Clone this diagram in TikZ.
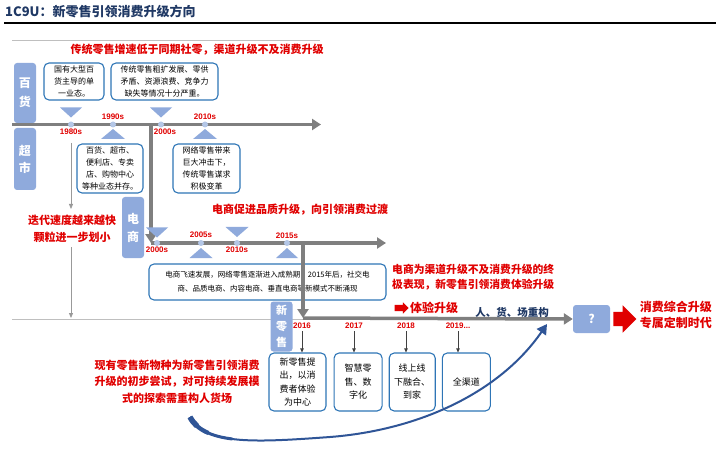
\documentclass[tikz,border=0pt]{standalone}
\usepackage{fontspec}
\setmainfont{Noto Sans CJK SC}
\newfontfamily\numfont{Liberation Sans}
\usetikzlibrary{arrows.meta, positioning, calc, shapes.arrows}
\definecolor{NRSlate}{HTML}{8FAADC}
\definecolor{NRDot}{HTML}{B4C7E7}
\definecolor{NRBlue}{HTML}{2E75B6}
\definecolor{NRRed}{HTML}{E00000}
\definecolor{NRGray}{HTML}{7F7F7F}
\definecolor{NRLine}{HTML}{BFBFBF}
\definecolor{NRNavy}{HTML}{1F3864}
\definecolor{NRCurve}{HTML}{2F5597}

\begin{document}
\begin{tikzpicture}[
    % 坐标按像素写, y 轴向下
    x=1pt, y=-1pt,
    font=\fontsize{8}{10}\selectfont,
    % 样式定义
    stagebox/.style={
        rounded corners=3pt,
        fill=NRSlate,
        text=white,
        font=\bfseries\fontsize{12}{19}\selectfont,
        align=center,
        inner sep=0pt,
        minimum width=22pt
    },
    infobox/.style={draw=NRBlue, line width=1.1pt, rounded corners=5pt, fill=white, align=center, inner sep=1pt},
    smalltext/.style={font=\fontsize{8}{12}\selectfont},
    stepbox/.style={infobox, minimum height=58pt, font=\fontsize{9}{13.5}\selectfont},
    redtext/.style={text=NRRed, font=\bfseries\fontsize{11}{16.5}\selectfont, align=center, inner sep=0pt},
    yeartext/.style={text=NRRed, font=\numfont\bfseries\fontsize{8}{9}\selectfont, inner sep=0pt},
    timeline/.style={draw=NRGray, line width=3.5pt, -{Triangle[length=9pt,width=11pt]}},
    tickdot/.style={circle, fill=NRDot, minimum size=6pt, inner sep=0pt},
    tickmark/.style={fill=NRSlate},
    frameline/.style={draw=NRLine, line width=0.8pt},
    thinarrow/.style={draw=black!40, line width=0.8pt, -{Triangle[length=5pt,width=4pt]}},
    yeararrow/.style={draw=black!75, line width=0.6pt, -{Triangle[length=4pt,width=3.5pt]}},
    redarrow/.style={single arrow, fill=NRRed, draw=none, single arrow head indent=0pt},
    bluecurve/.style={draw=NRCurve, line cap=butt}
]
    \useasboundingbox (0,0) rectangle (720,449);

    % ====== 0. 标题 ======
    \node[anchor=west, text=NRNavy, font=\bfseries\fontsize{13}{15}\selectfont, inner sep=0pt] (title) at (5,12) {1C9U：新零售引领消费升级方向};
    \draw[black, line width=1.2pt] (4,23) -- (716,23);
    \draw[frameline] (12,40) -- (320,40);
    \draw[frameline] (12,319) -- (303,319);

    % ====== 1. 百货 / 超市 阶段 ======
    \node[redtext] (trendA) at (197,50) {传统零售增速低于同期社零，渠道升级不及消费升级};
    \node[stagebox, minimum height=60pt] (stgBH) at (25,93) {百\\货};
    \node[stagebox, minimum height=62pt, font=\bfseries\fontsize{12}{17}\selectfont] (stgCS) at (25,159) {超\\市};

    \node[infobox, smalltext, minimum width=60pt, minimum height=37pt] (boxA) at (74,81.5) {国有大型百\\货主导的单\\一业态。};
    \node[infobox, smalltext, minimum width=107pt, minimum height=37pt] (boxB) at (164.5,81.5) {传统零售粗扩发展、零供\\矛盾、资源浪费、竞争力\\缺失等情况十分严重。};
    \node[infobox, smalltext, minimum width=66pt, minimum height=49pt] (boxC) at (110,168.5) {百货、超市、\\便利店、专卖\\店、购物中心\\等种业态并存。};
    \node[infobox, smalltext, minimum width=67pt, minimum height=49pt] (boxD) at (206.5,168.5) {网络零售带来\\巨大冲击下，\\传统零售谋求\\积极变革};

    \node[redtext, font=\bfseries\fontsize{11}{17}\selectfont] (iterNote) at (72,229) {迭代速度越来越快\\颗粒进一步划小};

    % ====== 2. 电商 阶段 ======
    \node[redtext] (trendB) at (300,210) {电商促进品质升级，向引领消费过渡};
    \node[stagebox, minimum height=61pt, font=\bfseries\fontsize{12}{18}\selectfont] (stgDS) at (133,227.5) {电\\商};
    \node[infobox, font=\fontsize{7.5}{14}\selectfont, minimum width=237pt, minimum height=36pt] (boxE) at (267.5,282) {电商飞速发展，网络零售逐渐进入成熟期，2015年后，社交电\\商、品质电商、内容电商、垂直电商等新模式不断涌现};
    \node[redtext, align=left, anchor=west, font=\bfseries\fontsize{10.8}{15}\selectfont] (trendC) at (392,277.5) {电商为渠道升级不及消费升级的终\\极表现，新零售引领消费体验升级};

    % ====== 3. 新零售 阶段 ======
    \node[stagebox, minimum height=50pt, font=\bfseries\fontsize{11}{16}\selectfont] (stgXL) at (281.5,326.5) {新\\零\\售};
    \node[stepbox, minimum width=57pt] (stepA) at (297.5,382) {新零售提\\出，以消\\费者体验\\为中心};
    \node[stepbox, minimum width=48pt, right=7pt of stepA] (stepB) {智慧零\\售、数\\字化};
    \node[stepbox, minimum width=46pt, right=6pt of stepB] (stepC) {线上线\\下融合、\\到家};
    \node[stepbox, minimum width=48pt, right=6pt of stepC] (stepD) {全渠道};

    % 箭身粗细由 inner sep 决定
    \node[redarrow, inner sep=3pt, minimum height=14pt, single arrow head extend=2.5pt] (expArrow) at (400,308) {};
    \node[redtext, font=\bfseries\fontsize{12}{14}\selectfont, right=1pt of expArrow] (expText) {体验升级};
    \node[text=NRNavy, font=\bfseries\fontsize{10.5}{12}\selectfont, inner sep=0pt] (rhc) at (512,312) {人、货、场重构};

    \node[stagebox, minimum width=37pt, minimum height=28pt, font=\bfseries\fontsize{12}{14}\selectfont] (qbox) at (591.5,319) {?};
    \node[redarrow, inner sep=7pt, minimum height=23pt, single arrow head extend=6.5pt, right=3pt of qbox] (bigArrow) {};
    \node[redtext, font=\bfseries\fontsize{12}{16}\selectfont, right=3pt of bigArrow, yshift=4pt] (finale) {消费综合升级\\专属定制时代};

    \node[redtext] (trendD) at (177,381.5) {现有零售新物种为新零售引领消费\\升级的初步尝试，对可持续发展模\\式的探索需重构人货场};

    % ====== 4. 时间轴 ======
    \coordinate (tlA0) at (12,124.5);
    \coordinate (tlA1) at (321,124.5);
    \coordinate (tlB0) at (151,243);
    \coordinate (tlB1) at (386,243);
    \coordinate (tlC0) at (303,318);

    \draw[timeline] (tlA0) -- (tlA1);
    \draw[timeline] (tlA0 -| tlB0) -- (tlB0);
    \draw[timeline] (tlB0) -- (tlB1);
    \draw[timeline] (tlB0 -| tlC0) -- (tlC0);
    \draw[timeline] (tlC0) -- (qbox.west);

    % 第一条轴的刻度
    \node[tickdot] (d1980) at (71,124.5) {};
    \node[tickdot] (d1990) at (113,124.5) {};
    \node[tickdot] (d2000a) at (161,124.5) {};
    \node[tickdot] (d2010a) at (205,124.5) {};
    \fill[tickmark] ([xshift=-11pt,yshift=17pt]d1980.center) -- ++(22,0) -- ++(-11,10) -- cycle;
    \fill[tickmark] ([xshift=-12pt,yshift=-14.5pt]d1990.center) -- ++(24,0) -- ++(-12,-10) -- cycle;
    \fill[tickmark] ([xshift=-11pt,yshift=17pt]d2000a.center) -- ++(22,0) -- ++(-11,10) -- cycle;
    \fill[tickmark] ([xshift=-12pt,yshift=-14.5pt]d2010a.center) -- ++(24,0) -- ++(-12,-10) -- cycle;
    \node[yeartext, below=1pt of d1980] (y1980) {1980s};
    \node[yeartext, above=2pt of d1990] (y1990) {1990s};
    \node[yeartext, below=1pt of d2000a, xshift=4pt] (y2000a) {2000s};
    \node[yeartext, above=2pt of d2010a] (y2010a) {2010s};

    % 第二条轴的刻度
    \node[tickdot] (d2000b) at (157,243) {};
    \node[tickdot] (d2005) at (201,243) {};
    \node[tickdot] (d2010b) at (237,243) {};
    \node[tickdot] (d2015) at (287,243) {};
    \fill[tickmark] ([xshift=-11pt,yshift=15.5pt]d2000b.center) -- ++(22,0) -- ++(-11,10) -- cycle;
    \fill[tickmark] ([xshift=-11.5pt,yshift=-15pt]d2005.center) -- ++(23,0) -- ++(-11.5,-10) -- cycle;
    \fill[tickmark] ([xshift=-11.5pt,yshift=16pt]d2010b.center) -- ++(23,0) -- ++(-11.5,10) -- cycle;
    \fill[tickmark] ([xshift=-11pt,yshift=-15pt]d2015.center) -- ++(22,0) -- ++(-11,-10) -- cycle;
    \node[yeartext, below=1pt of d2000b] (y2000b) {2000s};
    \node[yeartext, above=2pt of d2005] (y2005) {2005s};
    \node[yeartext, below=1pt of d2010b] (y2010b) {2010s};
    \node[yeartext, above=1pt of d2015] (y2015) {2015s};

    % 第三条轴的年份
    \node[yeartext] (y2016) at (302,326) {2016};
    \node[yeartext] (y2017) at (354,326) {2017};
    \node[yeartext] (y2018) at (406,326) {2018};
    \node[yeartext] (y2019) at (458,326) {2019...};
    \draw[yeararrow] ([yshift=-2pt]y2016.south) -- (y2016.south |- stepA.north);
    \draw[yeararrow] ([yshift=-2pt]y2017.south) -- (y2017.south |- stepB.north);
    \draw[yeararrow] ([yshift=-2pt]y2018.south) -- (y2018.south |- stepC.north);
    \draw[yeararrow] ([yshift=-2pt]y2019.south) -- (y2019.south |- stepD.north);

    % 细灰箭头
    \draw[thinarrow] ([yshift=-8pt]y1980.south) -- ($(iterNote.north -| y1980.south)+(0,-6)$);
    \draw[thinarrow] ($(iterNote.south -| y1980.south)+(0,4)$) -- (y1980.south |- tlC0);

    % ====== 5. 蓝色弧形箭头 (由粗到细) ======
    \coordinate (cvS) at (190,417);
    \coordinate (cvE) at (547,324);
    \draw[bluecurve, line width=2pt, -{Triangle[length=10pt,width=11pt]}] (cvS) .. controls (205,446) and (260,442) .. (330,437) .. controls (420,430) and (500,392) .. (cvE);
    \draw[bluecurve, line width=3pt] (cvS) .. controls (196.75,430.05) and (211.6,436.4) .. (232.3,439);
    \draw[bluecurve, line width=4.2pt] (cvS) .. controls (193.75,424.25) and (200,429.5) .. (208.4,433);
    \draw[bluecurve, line width=5.5pt] (cvS) .. controls (191.8,420.5) and (194.2,423.5) .. (197.1,426.1);

\end{tikzpicture}
\end{document}
